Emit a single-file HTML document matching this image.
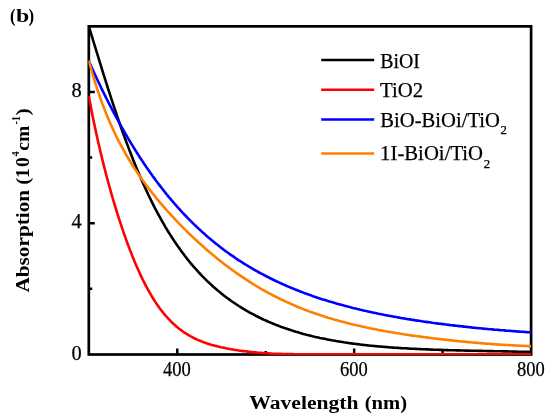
<!DOCTYPE html>
<html lang="en"><head><meta charset="utf-8"><title>Absorption spectra (b)</title>
<style>
html,body{margin:0;padding:0;background:#fff;}
body{width:550px;height:419px;overflow:hidden;}
svg{display:block;}
text{font-family:"Liberation Serif","DejaVu Serif",serif;fill:#000;}
.b{font-weight:bold;}
.r{stroke:#000;stroke-width:0.25px;}
</style></head><body>
<svg width="550" height="419" viewBox="0 0 550 419">
<rect width="550" height="419" fill="#fff"/>
<rect x="88.8" y="26.35" width="442.30" height="328.15" fill="none" stroke="#000" stroke-width="2.7"/>
<path d="M88.8,223.24h6.0 M88.8,91.98h6.0 M88.8,288.87h3.4 M88.8,157.61h3.4 M177.26,354.5v-6.0 M354.18,354.5v-6.0 M265.72,354.5v-3.4 M442.64,354.5v-3.4" stroke="#000" stroke-width="2.5" fill="none"/>
<clipPath id="pc"><rect x="88.40" y="25.85" width="443.00" height="329.15"/></clipPath>
<g clip-path="url(#pc)">
<path d="M88.8,26.2 L90.3,31.1 L91.8,36.0 L93.3,41.0 L94.8,45.9 L96.3,50.8 L97.8,55.7 L99.3,60.6 L100.8,65.4 L102.3,70.3 L103.8,75.1 L105.3,79.9 L106.8,84.6 L108.3,89.3 L109.8,94.0 L111.3,98.6 L112.8,103.2 L114.3,107.7 L115.8,112.2 L117.3,116.6 L118.8,121.0 L120.3,125.3 L121.8,129.5 L123.3,133.7 L124.8,137.8 L126.3,141.9 L127.8,145.9 L129.3,149.9 L130.8,153.8 L132.3,157.6 L133.8,161.4 L135.3,165.1 L136.8,168.7 L138.3,172.3 L139.8,175.8 L141.3,179.3 L142.8,182.7 L144.3,186.0 L145.8,189.3 L147.3,192.5 L148.8,195.7 L150.3,198.8 L151.8,201.8 L153.3,204.8 L154.8,207.8 L156.3,210.6 L157.8,213.5 L159.3,216.2 L160.8,218.9 L162.3,221.6 L163.8,224.2 L165.3,226.8 L166.8,229.3 L168.3,231.7 L169.8,234.1 L171.3,236.5 L172.8,238.8 L174.3,241.1 L175.8,243.3 L177.3,245.5 L178.8,247.6 L180.3,249.7 L181.8,251.8 L183.3,253.8 L184.8,255.8 L186.3,257.7 L187.8,259.6 L189.3,261.5 L190.8,263.3 L192.3,265.1 L193.8,266.8 L195.3,268.5 L196.8,270.2 L198.3,271.9 L199.8,273.5 L201.3,275.1 L202.8,276.6 L204.3,278.1 L205.8,279.6 L207.3,281.1 L208.8,282.5 L210.3,283.9 L211.8,285.3 L213.3,286.7 L214.8,288.0 L216.3,289.3 L217.8,290.6 L219.3,291.8 L220.8,293.0 L222.3,294.2 L223.8,295.4 L225.3,296.6 L226.8,297.7 L228.3,298.8 L229.8,299.9 L231.3,301.0 L232.8,302.0 L234.3,303.0 L235.8,304.0 L237.3,305.0 L238.8,306.0 L240.3,306.9 L241.8,307.9 L243.3,308.8 L244.8,309.7 L246.3,310.6 L247.8,311.4 L249.3,312.3 L250.8,313.1 L252.3,313.9 L253.8,314.7 L255.3,315.5 L256.8,316.3 L258.3,317.0 L259.8,317.7 L261.3,318.5 L262.8,319.2 L264.3,319.9 L265.8,320.5 L267.3,321.2 L268.8,321.9 L270.3,322.5 L271.8,323.1 L273.3,323.8 L274.8,324.4 L276.3,325.0 L277.8,325.5 L279.3,326.1 L280.8,326.7 L282.3,327.2 L283.8,327.8 L285.3,328.3 L286.8,328.8 L288.3,329.3 L289.8,329.8 L291.3,330.3 L292.8,330.8 L294.3,331.2 L295.8,331.7 L297.3,332.1 L298.8,332.6 L300.3,333.0 L301.8,333.4 L303.3,333.9 L304.8,334.3 L306.3,334.7 L307.8,335.0 L309.3,335.4 L310.8,335.8 L312.3,336.2 L313.8,336.5 L315.3,336.9 L316.8,337.2 L318.3,337.5 L319.8,337.9 L321.3,338.2 L322.8,338.5 L324.3,338.8 L325.8,339.1 L327.3,339.4 L328.8,339.7 L330.3,340.0 L331.8,340.3 L333.3,340.5 L334.8,340.8 L336.3,341.1 L337.8,341.3 L339.3,341.6 L340.8,341.8 L342.3,342.0 L343.8,342.3 L345.3,342.5 L346.8,342.7 L348.3,342.9 L349.8,343.2 L351.3,343.4 L352.8,343.6 L354.3,343.8 L355.8,344.0 L357.3,344.1 L358.8,344.3 L360.3,344.5 L361.8,344.7 L363.3,344.9 L364.8,345.0 L366.3,345.2 L367.8,345.4 L369.3,345.5 L370.8,345.7 L372.3,345.8 L373.8,346.0 L375.3,346.1 L376.8,346.2 L378.3,346.4 L379.8,346.5 L381.3,346.6 L382.8,346.8 L384.3,346.9 L385.8,347.0 L387.3,347.1 L388.8,347.2 L390.3,347.4 L391.8,347.5 L393.3,347.6 L394.8,347.7 L396.3,347.8 L397.8,347.9 L399.3,348.0 L400.8,348.1 L402.3,348.2 L403.8,348.3 L405.3,348.3 L406.8,348.4 L408.3,348.5 L409.8,348.6 L411.3,348.7 L412.8,348.8 L414.3,348.8 L415.8,348.9 L417.3,349.0 L418.8,349.0 L420.3,349.1 L421.8,349.2 L423.3,349.3 L424.8,349.3 L426.3,349.4 L427.8,349.4 L429.3,349.5 L430.8,349.6 L432.3,349.6 L433.8,349.7 L435.3,349.7 L436.8,349.8 L438.3,349.8 L439.8,349.9 L441.3,349.9 L442.8,350.0 L444.3,350.0 L445.8,350.1 L447.3,350.1 L448.8,350.2 L450.3,350.2 L451.8,350.2 L453.3,350.3 L454.8,350.3 L456.3,350.4 L457.8,350.4 L459.3,350.4 L460.8,350.5 L462.3,350.5 L463.8,350.5 L465.3,350.6 L466.8,350.6 L468.3,350.6 L469.8,350.7 L471.3,350.7 L472.8,350.7 L474.3,350.8 L475.8,350.8 L477.3,350.8 L478.8,350.9 L480.3,350.9 L481.8,350.9 L483.3,351.0 L484.8,351.0 L486.3,351.0 L487.8,351.1 L489.3,351.1 L490.8,351.1 L492.3,351.1 L493.8,351.2 L495.3,351.2 L496.8,351.2 L498.3,351.3 L499.8,351.3 L501.3,351.3 L502.8,351.4 L504.3,351.4 L505.8,351.4 L507.3,351.4 L508.8,351.5 L510.3,351.5 L511.8,351.5 L513.3,351.6 L514.8,351.6 L516.3,351.6 L517.8,351.7 L519.3,351.7 L520.8,351.8 L522.3,351.8 L523.8,351.8 L525.3,351.9 L526.8,351.9 L528.3,351.9 L529.8,352.0 L531.1,352.0" fill="none" stroke="#000" stroke-width="2.6" stroke-linejoin="round"/>
<path d="M88.8,96.1 L90.3,104.1 L91.8,111.9 L93.3,119.4 L94.8,126.6 L96.3,133.5 L97.8,140.3 L99.3,146.8 L100.8,153.2 L102.3,159.4 L103.8,165.4 L105.3,171.3 L106.8,177.0 L108.3,182.6 L109.8,188.0 L111.3,193.3 L112.8,198.5 L114.3,203.6 L115.8,208.5 L117.3,213.4 L118.8,218.1 L120.3,222.7 L121.8,227.2 L123.3,231.6 L124.8,235.9 L126.3,240.1 L127.8,244.2 L129.3,248.2 L130.8,252.1 L132.3,255.9 L133.8,259.6 L135.3,263.2 L136.8,266.7 L138.3,270.1 L139.8,273.4 L141.3,276.6 L142.8,279.7 L144.3,282.7 L145.8,285.6 L147.3,288.4 L148.8,291.1 L150.3,293.7 L151.8,296.3 L153.3,298.7 L154.8,301.1 L156.3,303.4 L157.8,305.5 L159.3,307.7 L160.8,309.7 L162.3,311.6 L163.8,313.5 L165.3,315.3 L166.8,317.0 L168.3,318.7 L169.8,320.2 L171.3,321.8 L172.8,323.2 L174.3,324.6 L175.8,325.9 L177.3,327.2 L178.8,328.4 L180.3,329.6 L181.8,330.7 L183.3,331.8 L184.8,332.8 L186.3,333.7 L187.8,334.7 L189.3,335.5 L190.8,336.4 L192.3,337.2 L193.8,338.0 L195.3,338.7 L196.8,339.4 L198.3,340.1 L199.8,340.7 L201.3,341.3 L202.8,341.9 L204.3,342.4 L205.8,343.0 L207.3,343.5 L208.8,344.0 L210.3,344.4 L211.8,344.9 L213.3,345.3 L214.8,345.7 L216.3,346.1 L217.8,346.5 L219.3,346.8 L220.8,347.2 L222.3,347.5 L223.8,347.8 L225.3,348.1 L226.8,348.4 L228.3,348.7 L229.8,349.0 L231.3,349.3 L232.8,349.5 L234.3,349.8 L235.8,350.0 L237.3,350.2 L238.8,350.5 L240.3,350.7 L241.8,350.9 L243.3,351.1 L244.8,351.3 L246.3,351.4 L247.8,351.6 L249.3,351.8 L250.8,352.0 L252.3,352.1 L253.8,352.3 L255.3,352.4 L256.8,352.5 L258.3,352.7 L259.8,352.8 L261.3,352.9 L262.8,353.0 L264.3,353.1 L265.8,353.2 L267.3,353.3 L268.8,353.4 L270.3,353.5 L271.8,353.6 L273.3,353.7 L274.8,353.7 L276.3,353.8 L277.8,353.8 L279.3,353.9 L280.8,353.9 L282.3,354.0 L283.8,354.0 L285.3,354.0 L286.8,354.1 L288.3,354.1 L289.8,354.1 L291.3,354.1 L292.8,354.1 L294.3,354.2 L295.8,354.2 L297.3,354.2 L298.8,354.2 L300.3,354.2 L301.8,354.2 L303.3,354.2 L304.8,354.2 L306.3,354.2 L307.8,354.2 L309.3,354.2 L310.8,354.2 L312.3,354.2 L313.8,354.2 L315.3,354.2 L316.8,354.2 L318.3,354.2 L319.8,354.2 L321.3,354.2 L322.8,354.2 L324.3,354.2 L325.8,354.2 L327.3,354.2 L328.8,354.2 L330.3,354.2 L331.8,354.2 L333.3,354.2 L334.8,354.2 L336.3,354.2 L337.8,354.2 L339.3,354.2 L340.8,354.2 L342.3,354.2 L343.8,354.2 L345.3,354.2 L346.8,354.2 L348.3,354.2 L349.8,354.2 L351.3,354.2 L352.8,354.2 L354.3,354.2 L355.8,354.2 L357.3,354.2 L358.8,354.2 L360.3,354.2 L361.8,354.2 L363.3,354.2 L364.8,354.2 L366.3,354.2 L367.8,354.2 L369.3,354.2 L370.8,354.2 L372.3,354.2 L373.8,354.2 L375.3,354.2 L376.8,354.2 L378.3,354.2 L379.8,354.2 L381.3,354.2 L382.8,354.2 L384.3,354.2 L385.8,354.2 L387.3,354.2 L388.8,354.2 L390.3,354.2 L391.8,354.2 L393.3,354.2 L394.8,354.2 L396.3,354.2 L397.8,354.2 L399.3,354.2 L400.8,354.2 L402.3,354.2 L403.8,354.2 L405.3,354.2 L406.8,354.2 L408.3,354.2 L409.8,354.2 L411.3,354.2 L412.8,354.2 L414.3,354.2 L415.8,354.2 L417.3,354.2 L418.8,354.2 L420.3,354.2 L421.8,354.2 L423.3,354.2 L424.8,354.2 L426.3,354.2 L427.8,354.2 L429.3,354.2 L430.8,354.2 L432.3,354.2 L433.8,354.2 L435.3,354.2 L436.8,354.2 L438.3,354.2 L439.8,354.2 L441.3,354.2 L442.8,354.2 L444.3,354.2 L445.8,354.2 L447.3,354.2 L448.8,354.2 L450.3,354.2 L451.8,354.2 L453.3,354.2 L454.8,354.2 L456.3,354.2 L457.8,354.2 L459.3,354.2 L460.8,354.2 L462.3,354.2 L463.8,354.2 L465.3,354.2 L466.8,354.2 L468.3,354.2 L469.8,354.2 L471.3,354.2 L472.8,354.2 L474.3,354.2 L475.8,354.2 L477.3,354.2 L478.8,354.2 L480.3,354.2 L481.8,354.2 L483.3,354.2 L484.8,354.2 L486.3,354.2 L487.8,354.2 L489.3,354.2 L490.8,354.2 L492.3,354.2 L493.8,354.2 L495.3,354.2 L496.8,354.2 L498.3,354.2 L499.8,354.2 L501.3,354.2 L502.8,354.2 L504.3,354.2 L505.8,354.2 L507.3,354.2 L508.8,354.2 L510.3,354.2 L511.8,354.2 L513.3,354.2 L514.8,354.2 L516.3,354.2 L517.8,354.2 L519.3,354.2 L520.8,354.2 L522.3,354.2 L523.8,354.2 L525.3,354.2 L526.8,354.2 L528.3,354.2 L529.8,354.2 L531.1,354.2" fill="none" stroke="#ff0000" stroke-width="2.6" stroke-linejoin="round"/>
<path d="M88.8,61.0 L90.3,64.3 L91.8,67.7 L93.3,71.0 L94.8,74.2 L96.3,77.5 L97.8,80.7 L99.3,83.8 L100.8,87.0 L102.3,90.1 L103.8,93.1 L105.3,96.1 L106.8,99.1 L108.3,102.1 L109.8,105.0 L111.3,107.9 L112.8,110.8 L114.3,113.7 L115.8,116.5 L117.3,119.2 L118.8,122.0 L120.3,124.7 L121.8,127.4 L123.3,130.0 L124.8,132.6 L126.3,135.2 L127.8,137.8 L129.3,140.3 L130.8,142.8 L132.3,145.3 L133.8,147.7 L135.3,150.1 L136.8,152.5 L138.3,154.9 L139.8,157.2 L141.3,159.5 L142.8,161.8 L144.3,164.0 L145.8,166.2 L147.3,168.4 L148.8,170.6 L150.3,172.7 L151.8,174.8 L153.3,176.9 L154.8,178.9 L156.3,181.0 L157.8,183.0 L159.3,184.9 L160.8,186.9 L162.3,188.8 L163.8,190.7 L165.3,192.6 L166.8,194.5 L168.3,196.3 L169.8,198.1 L171.3,199.9 L172.8,201.6 L174.3,203.4 L175.8,205.1 L177.3,206.8 L178.8,208.5 L180.3,210.1 L181.8,211.8 L183.3,213.4 L184.8,215.0 L186.3,216.5 L187.8,218.1 L189.3,219.6 L190.8,221.1 L192.3,222.6 L193.8,224.1 L195.3,225.5 L196.8,227.0 L198.3,228.4 L199.8,229.8 L201.3,231.1 L202.8,232.5 L204.3,233.8 L205.8,235.2 L207.3,236.5 L208.8,237.8 L210.3,239.0 L211.8,240.3 L213.3,241.5 L214.8,242.7 L216.3,243.9 L217.8,245.1 L219.3,246.3 L220.8,247.5 L222.3,248.6 L223.8,249.7 L225.3,250.9 L226.8,252.0 L228.3,253.0 L229.8,254.1 L231.3,255.2 L232.8,256.2 L234.3,257.2 L235.8,258.3 L237.3,259.3 L238.8,260.3 L240.3,261.2 L241.8,262.2 L243.3,263.1 L244.8,264.1 L246.3,265.0 L247.8,265.9 L249.3,266.8 L250.8,267.7 L252.3,268.6 L253.8,269.5 L255.3,270.3 L256.8,271.2 L258.3,272.0 L259.8,272.8 L261.3,273.6 L262.8,274.4 L264.3,275.2 L265.8,276.0 L267.3,276.8 L268.8,277.5 L270.3,278.3 L271.8,279.0 L273.3,279.8 L274.8,280.5 L276.3,281.2 L277.8,281.9 L279.3,282.6 L280.8,283.3 L282.3,284.0 L283.8,284.6 L285.3,285.3 L286.8,286.0 L288.3,286.6 L289.8,287.2 L291.3,287.9 L292.8,288.5 L294.3,289.1 L295.8,289.7 L297.3,290.3 L298.8,290.9 L300.3,291.5 L301.8,292.0 L303.3,292.6 L304.8,293.2 L306.3,293.7 L307.8,294.3 L309.3,294.8 L310.8,295.3 L312.3,295.9 L313.8,296.4 L315.3,296.9 L316.8,297.4 L318.3,297.9 L319.8,298.4 L321.3,298.9 L322.8,299.4 L324.3,299.8 L325.8,300.3 L327.3,300.8 L328.8,301.2 L330.3,301.7 L331.8,302.1 L333.3,302.6 L334.8,303.0 L336.3,303.5 L337.8,303.9 L339.3,304.3 L340.8,304.7 L342.3,305.1 L343.8,305.5 L345.3,305.9 L346.8,306.3 L348.3,306.7 L349.8,307.1 L351.3,307.5 L352.8,307.9 L354.3,308.2 L355.8,308.6 L357.3,309.0 L358.8,309.3 L360.3,309.7 L361.8,310.0 L363.3,310.4 L364.8,310.7 L366.3,311.1 L367.8,311.4 L369.3,311.7 L370.8,312.1 L372.3,312.4 L373.8,312.7 L375.3,313.0 L376.8,313.3 L378.3,313.7 L379.8,314.0 L381.3,314.3 L382.8,314.6 L384.3,314.9 L385.8,315.2 L387.3,315.4 L388.8,315.7 L390.3,316.0 L391.8,316.3 L393.3,316.6 L394.8,316.8 L396.3,317.1 L397.8,317.4 L399.3,317.6 L400.8,317.9 L402.3,318.2 L403.8,318.4 L405.3,318.7 L406.8,318.9 L408.3,319.2 L409.8,319.4 L411.3,319.6 L412.8,319.9 L414.3,320.1 L415.8,320.4 L417.3,320.6 L418.8,320.8 L420.3,321.0 L421.8,321.3 L423.3,321.5 L424.8,321.7 L426.3,321.9 L427.8,322.1 L429.3,322.3 L430.8,322.5 L432.3,322.8 L433.8,323.0 L435.3,323.2 L436.8,323.4 L438.3,323.6 L439.8,323.8 L441.3,323.9 L442.8,324.1 L444.3,324.3 L445.8,324.5 L447.3,324.7 L448.8,324.9 L450.3,325.1 L451.8,325.2 L453.3,325.4 L454.8,325.6 L456.3,325.8 L457.8,325.9 L459.3,326.1 L460.8,326.3 L462.3,326.4 L463.8,326.6 L465.3,326.8 L466.8,326.9 L468.3,327.1 L469.8,327.3 L471.3,327.4 L472.8,327.6 L474.3,327.7 L475.8,327.9 L477.3,328.0 L478.8,328.2 L480.3,328.3 L481.8,328.5 L483.3,328.6 L484.8,328.7 L486.3,328.9 L487.8,329.0 L489.3,329.2 L490.8,329.3 L492.3,329.4 L493.8,329.6 L495.3,329.7 L496.8,329.8 L498.3,329.9 L499.8,330.1 L501.3,330.2 L502.8,330.3 L504.3,330.4 L505.8,330.6 L507.3,330.7 L508.8,330.8 L510.3,330.9 L511.8,331.0 L513.3,331.1 L514.8,331.3 L516.3,331.4 L517.8,331.5 L519.3,331.6 L520.8,331.7 L522.3,331.8 L523.8,331.9 L525.3,332.0 L526.8,332.1 L528.3,332.2 L529.8,332.3 L531.1,332.4" fill="none" stroke="#0000ff" stroke-width="2.6" stroke-linejoin="round"/>
<path d="M88.8,60.6 L90.3,66.2 L91.8,71.5 L93.3,76.6 L94.8,81.5 L96.3,86.2 L97.8,90.8 L99.3,95.2 L100.8,99.4 L102.3,103.6 L103.8,107.5 L105.3,111.4 L106.8,115.1 L108.3,118.7 L109.8,122.2 L111.3,125.6 L112.8,128.9 L114.3,132.1 L115.8,135.3 L117.3,138.3 L118.8,141.3 L120.3,144.1 L121.8,146.9 L123.3,149.7 L124.8,152.4 L126.3,155.0 L127.8,157.5 L129.3,160.0 L130.8,162.5 L132.3,164.9 L133.8,167.2 L135.3,169.6 L136.8,171.8 L138.3,174.0 L139.8,176.2 L141.3,178.4 L142.8,180.5 L144.3,182.5 L145.8,184.6 L147.3,186.6 L148.8,188.6 L150.3,190.5 L151.8,192.4 L153.3,194.3 L154.8,196.2 L156.3,198.1 L157.8,199.9 L159.3,201.7 L160.8,203.4 L162.3,205.2 L163.8,206.9 L165.3,208.7 L166.8,210.3 L168.3,212.0 L169.8,213.7 L171.3,215.3 L172.8,216.9 L174.3,218.5 L175.8,220.1 L177.3,221.7 L178.8,223.3 L180.3,224.8 L181.8,226.3 L183.3,227.9 L184.8,229.4 L186.3,230.8 L187.8,232.3 L189.3,233.8 L190.8,235.2 L192.3,236.6 L193.8,238.1 L195.3,239.5 L196.8,240.8 L198.3,242.2 L199.8,243.6 L201.3,244.9 L202.8,246.3 L204.3,247.6 L205.8,248.9 L207.3,250.2 L208.8,251.5 L210.3,252.8 L211.8,254.0 L213.3,255.3 L214.8,256.5 L216.3,257.8 L217.8,259.0 L219.3,260.2 L220.8,261.4 L222.3,262.5 L223.8,263.7 L225.3,264.9 L226.8,266.0 L228.3,267.1 L229.8,268.2 L231.3,269.3 L232.8,270.4 L234.3,271.5 L235.8,272.6 L237.3,273.6 L238.8,274.7 L240.3,275.7 L241.8,276.7 L243.3,277.7 L244.8,278.7 L246.3,279.7 L247.8,280.7 L249.3,281.7 L250.8,282.6 L252.3,283.6 L253.8,284.5 L255.3,285.4 L256.8,286.3 L258.3,287.2 L259.8,288.1 L261.3,288.9 L262.8,289.8 L264.3,290.7 L265.8,291.5 L267.3,292.3 L268.8,293.1 L270.3,293.9 L271.8,294.7 L273.3,295.5 L274.8,296.3 L276.3,297.0 L277.8,297.8 L279.3,298.5 L280.8,299.3 L282.3,300.0 L283.8,300.7 L285.3,301.4 L286.8,302.1 L288.3,302.8 L289.8,303.4 L291.3,304.1 L292.8,304.8 L294.3,305.4 L295.8,306.0 L297.3,306.7 L298.8,307.3 L300.3,307.9 L301.8,308.5 L303.3,309.1 L304.8,309.7 L306.3,310.2 L307.8,310.8 L309.3,311.4 L310.8,311.9 L312.3,312.4 L313.8,313.0 L315.3,313.5 L316.8,314.0 L318.3,314.5 L319.8,315.0 L321.3,315.5 L322.8,316.0 L324.3,316.5 L325.8,317.0 L327.3,317.4 L328.8,317.9 L330.3,318.3 L331.8,318.8 L333.3,319.2 L334.8,319.7 L336.3,320.1 L337.8,320.5 L339.3,320.9 L340.8,321.3 L342.3,321.7 L343.8,322.1 L345.3,322.5 L346.8,322.9 L348.3,323.3 L349.8,323.7 L351.3,324.0 L352.8,324.4 L354.3,324.8 L355.8,325.1 L357.3,325.5 L358.8,325.8 L360.3,326.1 L361.8,326.5 L363.3,326.8 L364.8,327.1 L366.3,327.5 L367.8,327.8 L369.3,328.1 L370.8,328.4 L372.3,328.7 L373.8,329.0 L375.3,329.3 L376.8,329.6 L378.3,329.9 L379.8,330.2 L381.3,330.4 L382.8,330.7 L384.3,331.0 L385.8,331.3 L387.3,331.5 L388.8,331.8 L390.3,332.0 L391.8,332.3 L393.3,332.6 L394.8,332.8 L396.3,333.1 L397.8,333.3 L399.3,333.5 L400.8,333.8 L402.3,334.0 L403.8,334.3 L405.3,334.5 L406.8,334.7 L408.3,334.9 L409.8,335.2 L411.3,335.4 L412.8,335.6 L414.3,335.8 L415.8,336.0 L417.3,336.2 L418.8,336.4 L420.3,336.6 L421.8,336.8 L423.3,337.0 L424.8,337.2 L426.3,337.4 L427.8,337.6 L429.3,337.8 L430.8,338.0 L432.3,338.2 L433.8,338.4 L435.3,338.6 L436.8,338.7 L438.3,338.9 L439.8,339.1 L441.3,339.3 L442.8,339.4 L444.3,339.6 L445.8,339.8 L447.3,339.9 L448.8,340.1 L450.3,340.3 L451.8,340.4 L453.3,340.6 L454.8,340.7 L456.3,340.9 L457.8,341.1 L459.3,341.2 L460.8,341.4 L462.3,341.5 L463.8,341.6 L465.3,341.8 L466.8,341.9 L468.3,342.1 L469.8,342.2 L471.3,342.3 L472.8,342.5 L474.3,342.6 L475.8,342.7 L477.3,342.9 L478.8,343.0 L480.3,343.1 L481.8,343.2 L483.3,343.4 L484.8,343.5 L486.3,343.6 L487.8,343.7 L489.3,343.8 L490.8,343.9 L492.3,344.1 L493.8,344.2 L495.3,344.3 L496.8,344.4 L498.3,344.5 L499.8,344.6 L501.3,344.7 L502.8,344.8 L504.3,344.9 L505.8,345.0 L507.3,345.0 L508.8,345.1 L510.3,345.2 L511.8,345.3 L513.3,345.4 L514.8,345.5 L516.3,345.5 L517.8,345.6 L519.3,345.7 L520.8,345.8 L522.3,345.8 L523.8,345.9 L525.3,346.0 L526.8,346.0 L528.3,346.1 L529.8,346.1 L531.1,346.2" fill="none" stroke="#ff8000" stroke-width="2.6" stroke-linejoin="round"/>
</g>
<path d="M321.2,60.0H374.2" stroke="#000" stroke-width="2.6" fill="none"/>
<path d="M321.2,89.7H374.2" stroke="#ff0000" stroke-width="2.6" fill="none"/>
<path d="M321.2,119.5H374.2" stroke="#0000ff" stroke-width="2.6" fill="none"/>
<path d="M321.2,153.5H374.2" stroke="#ff8000" stroke-width="2.6" fill="none"/>
<text x="380.3" y="67.9" font-size="20.2" class="r" textLength="39.6" lengthAdjust="spacingAndGlyphs">BiOI</text>
<text x="380.0" y="97.4" font-size="20.2" class="r" textLength="43.0" lengthAdjust="spacingAndGlyphs">TiO2</text>
<text y="126.6" font-size="20.2" class="r"><tspan x="380.3" textLength="119.6" lengthAdjust="spacingAndGlyphs">BiO-BiOi/TiO</tspan><tspan x="500.4" dy="7.7" font-size="11.5" textLength="6.4" lengthAdjust="spacingAndGlyphs">2</tspan></text>
<text y="160.4" font-size="20.2" class="r"><tspan x="380.1" textLength="103.0" lengthAdjust="spacingAndGlyphs">1I-BiOi/TiO</tspan><tspan x="483.8" dy="7.9" font-size="11.5" textLength="6.4" lengthAdjust="spacingAndGlyphs">2</tspan></text>
<text x="71.4" y="96.8" font-size="20.9" class="r" textLength="10.2" lengthAdjust="spacingAndGlyphs">8</text>
<text x="71.4" y="227.9" font-size="20.9" class="r" textLength="10.2" lengthAdjust="spacingAndGlyphs">4</text>
<text x="71.4" y="359.6" font-size="20.9" class="r" textLength="10.2" lengthAdjust="spacingAndGlyphs">0</text>
<text x="163.0" y="375.7" font-size="20.9" class="r" textLength="27.8" lengthAdjust="spacingAndGlyphs">400</text>
<text x="340.0" y="375.7" font-size="20.9" class="r" textLength="27.8" lengthAdjust="spacingAndGlyphs">600</text>
<text x="517.0" y="375.7" font-size="20.9" class="r" textLength="27.8" lengthAdjust="spacingAndGlyphs">800</text>
<text y="21.5" font-size="19.6" class="b"><tspan x="10.1" textLength="5.6" lengthAdjust="spacingAndGlyphs">(</tspan><tspan x="15.9" textLength="13.2" lengthAdjust="spacingAndGlyphs">b</tspan><tspan x="28.6" textLength="5.6" lengthAdjust="spacingAndGlyphs">)</tspan></text>
<text y="409.2" font-size="19.6" class="b"><tspan x="249.3" textLength="109.3" lengthAdjust="spacingAndGlyphs">Wavelength</tspan> <tspan x="364.7" textLength="42.4" lengthAdjust="spacingAndGlyphs">(nm)</tspan></text>
<text transform="translate(28.5,292) rotate(-90)" class="b" font-size="19.6"><tspan x="-0.6" textLength="102.8" lengthAdjust="spacingAndGlyphs">Absorption</tspan> <tspan x="107.2" textLength="7.0" lengthAdjust="spacingAndGlyphs">(</tspan><tspan x="114.0" textLength="9.8" lengthAdjust="spacingAndGlyphs">1</tspan><tspan x="125.1" textLength="9.8" lengthAdjust="spacingAndGlyphs">0</tspan><tspan x="135.4" dy="-9.7" font-size="10.8" textLength="5.2" lengthAdjust="spacingAndGlyphs">4</tspan><tspan x="141.3" dy="9.7" textLength="25.0" lengthAdjust="spacingAndGlyphs">cm</tspan><tspan x="167.8" dy="-8.7" font-size="11.8" textLength="7.9" lengthAdjust="spacingAndGlyphs">-1</tspan><tspan x="176.6" dy="8.7" textLength="7.3" lengthAdjust="spacingAndGlyphs">)</tspan></text>
</svg>
</body></html>
